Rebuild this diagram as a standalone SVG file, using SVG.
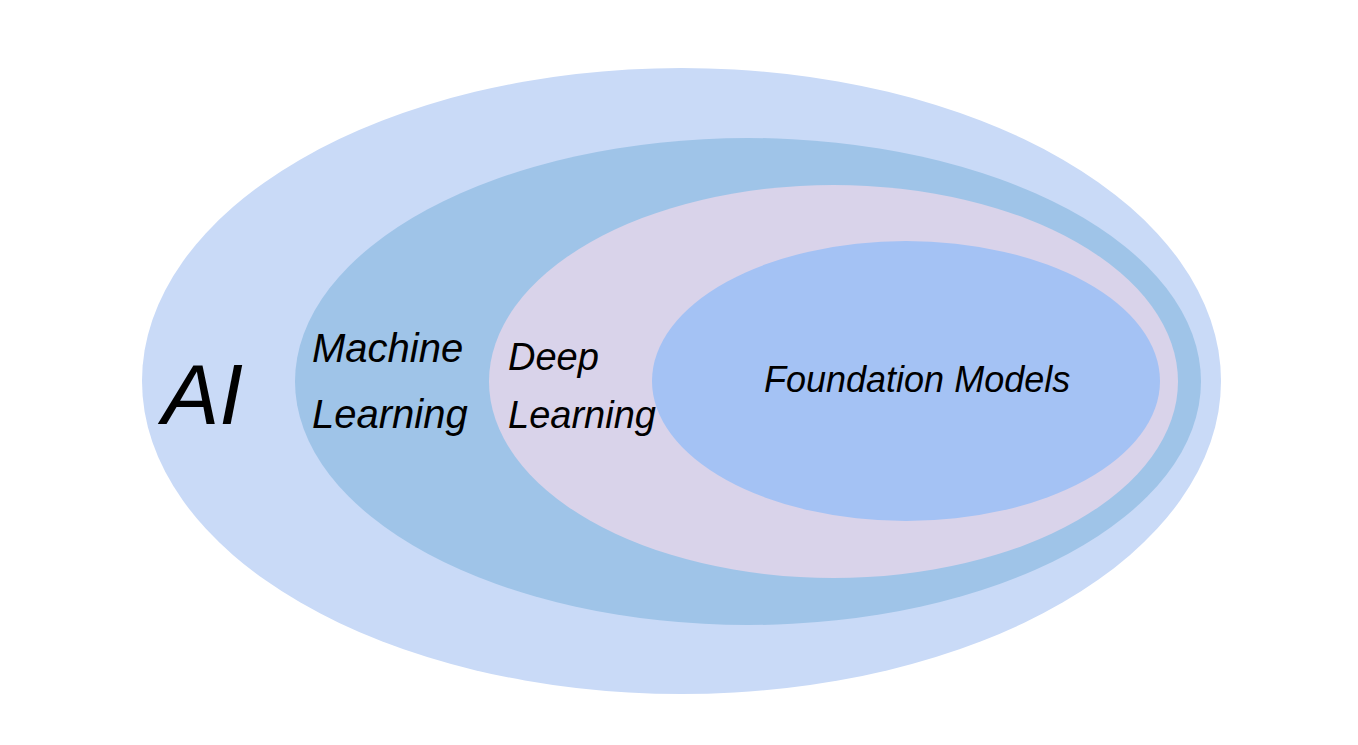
<svg xmlns="http://www.w3.org/2000/svg" width="1358" height="745" viewBox="0 0 1358 745">
<style>text{font-family:"Liberation Sans",Arial,sans-serif;font-style:italic;fill:#000}</style>
<rect width="1358" height="745" fill="#fff"/>
<g id="ai"><ellipse cx="681.5" cy="381" rx="539.5" ry="313" fill="#c9daf7"/><text x="162" y="424" font-size="86">AI</text></g>
<g id="ml"><ellipse cx="748" cy="381.5" rx="453" ry="243.5" fill="#9fc4e8"/><text x="312" y="362" font-size="40">Machine</text><text x="312" y="428" font-size="40">Learning</text></g>
<g id="dl"><ellipse cx="833.5" cy="381.5" rx="344.5" ry="196.5" fill="#d9d3ea"/><text x="508" y="370" font-size="38">Deep</text><text x="508" y="428" font-size="38">Learning</text></g>
<g id="fm"><ellipse cx="906" cy="381" rx="254" ry="140" fill="#a4c2f4"/><text x="764" y="392" font-size="36">Foundation Models</text></g>
<g id="connectors"/>
</svg>
